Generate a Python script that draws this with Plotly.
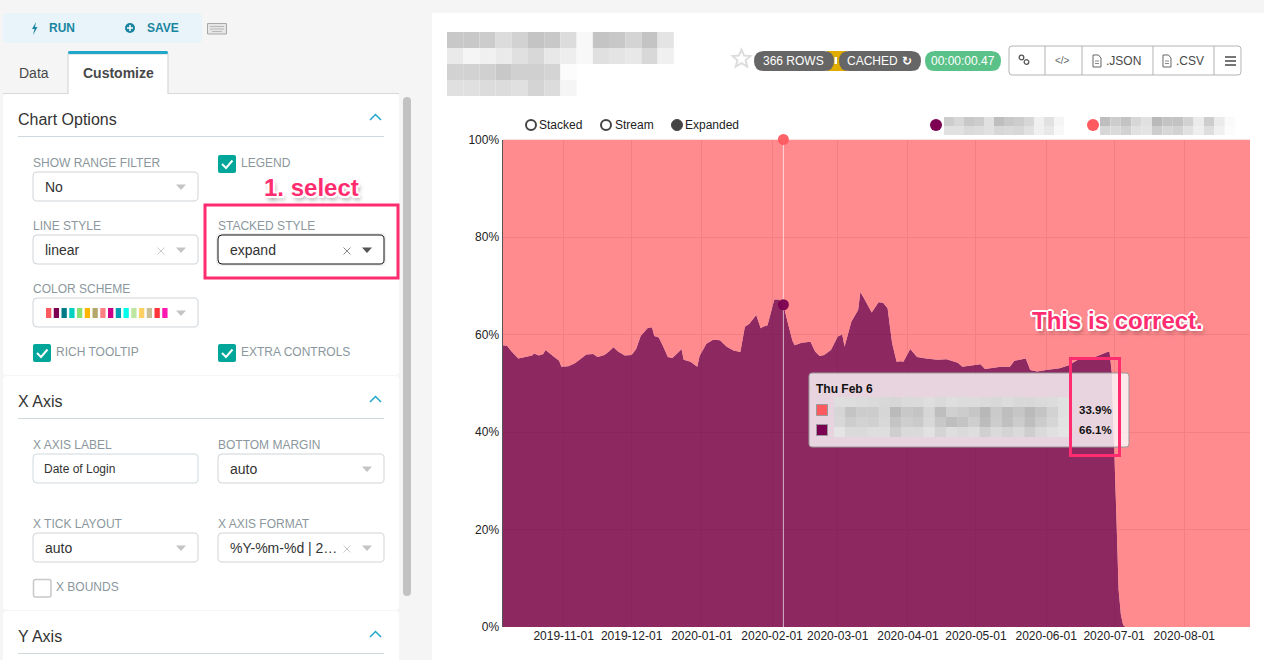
import plotly.graph_objects as go

W = 1264
H = 660

# values (expanded stack, percent)
dates = [
    "2019-10-05", "2019-10-07", "2019-10-09", "2019-10-12", "2019-10-14", "2019-10-18", "2019-10-19",
    "2019-10-21", "2019-10-23", "2019-10-24", "2019-10-27", "2019-10-30", "2019-10-31", "2019-11-03",
    "2019-11-06", "2019-11-08", "2019-11-11", "2019-11-14", "2019-11-16", "2019-11-19", "2019-11-21",
    "2019-11-23", "2019-11-25", "2019-11-28", "2019-12-01", "2019-12-03", "2019-12-05", "2019-12-08",
    "2019-12-10", "2019-12-11", "2019-12-13", "2019-12-15", "2019-12-17", "2019-12-19", "2019-12-22",
    "2019-12-23", "2019-12-24", "2019-12-27", "2019-12-30", "2019-12-31", "2020-01-03", "2020-01-06",
    "2020-01-09", "2020-01-12", "2020-01-15", "2020-01-18", "2020-01-20", "2020-01-22", "2020-01-25",
    "2020-01-27", "2020-01-28", "2020-01-30", "2020-02-02", "2020-02-04", "2020-02-06", "2020-02-08",
    "2020-02-10", "2020-02-11", "2020-02-14", "2020-02-18", "2020-02-20", "2020-02-22", "2020-02-24",
    "2020-02-27", "2020-03-01", "2020-03-03", "2020-03-04", "2020-03-07", "2020-03-10", "2020-03-11",
    "2020-03-13", "2020-03-16", "2020-03-19", "2020-03-21", "2020-03-23", "2020-03-25", "2020-03-27",
    "2020-03-29", "2020-03-30", "2020-04-02", "2020-04-05", "2020-04-09", "2020-04-14", "2020-04-18",
    "2020-04-23", "2020-04-25", "2020-05-03", "2020-05-05", "2020-05-12", "2020-05-16", "2020-05-18",
    "2020-05-23", "2020-05-25", "2020-05-28", "2020-06-01", "2020-06-07", "2020-06-11", "2020-06-15",
    "2020-06-22", "2020-06-28", "2020-06-29", "2020-06-30", "2020-07-01", "2020-07-02", "2020-07-03",
    "2020-07-04", "2020-07-05", "2020-07-06", "2020-08-30",
]
purple_pct = [
    57.8, 57.7, 56.5, 55.1, 55.3, 55.7, 56.1,
    55.7, 56.0, 56.8, 55.7, 54.6, 53.4, 53.5,
    54.1, 54.8, 55.9, 56.0, 55.4, 55.8, 56.5,
    57.4, 56.5, 55.7, 55.8, 57.0, 59.7, 61.3,
    61.5, 59.7, 59.4, 57.5, 55.4, 55.2, 56.5,
    57.0, 54.8, 54.4, 53.4, 55.6, 58.1, 58.9,
    58.8, 57.5, 56.7, 56.4, 61.6, 62.2, 64.0,
    61.3, 61.6, 61.9, 67.2, 67.2, 66.1, 62.3,
    58.7, 57.8, 58.3, 58.5, 56.5, 55.6, 55.8,
    56.8, 59.6, 60.0, 57.5, 62.6, 65.0, 68.7,
    67.1, 64.5, 66.6, 66.5, 65.4, 58.2, 54.4,
    54.5, 54.4, 57.0, 55.4, 55.1, 54.8, 54.9,
    54.2, 53.4, 53.9, 52.9, 53.4, 53.4, 54.6,
    55.1, 52.7, 52.4, 52.7, 53.1, 53.7, 54.8,
    55.3, 56.4, 56.4, 52.1, 36.9, 23.0, 7.6,
    2.5, 0.4, 0.0, 0.0,
]
coral_pct = [
    42.2, 42.3, 43.5, 44.9, 44.7, 44.3, 43.9,
    44.3, 44.0, 43.2, 44.3, 45.4, 46.6, 46.5,
    45.9, 45.2, 44.1, 44.0, 44.6, 44.2, 43.5,
    42.6, 43.5, 44.3, 44.2, 43.0, 40.3, 38.7,
    38.5, 40.3, 40.6, 42.5, 44.6, 44.8, 43.5,
    43.0, 45.2, 45.6, 46.6, 44.4, 41.9, 41.1,
    41.2, 42.5, 43.3, 43.6, 38.4, 37.8, 36.0,
    38.7, 38.4, 38.1, 32.8, 32.8, 33.9, 37.7,
    41.3, 42.2, 41.7, 41.5, 43.5, 44.4, 44.2,
    43.2, 40.4, 40.0, 42.5, 37.4, 35.0, 31.3,
    32.9, 35.5, 33.4, 33.5, 34.6, 41.8, 45.6,
    45.5, 45.6, 43.0, 44.6, 44.9, 45.2, 45.1,
    45.8, 46.6, 46.1, 47.1, 46.6, 46.6, 45.4,
    44.9, 47.3, 47.6, 47.3, 46.9, 46.3, 45.2,
    44.7, 43.6, 43.6, 47.9, 63.1, 77.0, 92.4,
    97.5, 99.6, 100.0, 100.0,
]
tick_dates = [
    "2019-11-01", "2019-12-01", "2020-01-01", "2020-02-01", "2020-03-01",
    "2020-04-01", "2020-05-01", "2020-06-01", "2020-07-01", "2020-08-01",
]
y_ticks = [0, 20, 40, 60, 80, 100]
y_labels = ["0%", "20%", "40%", "60%", "80%", "100%"]
hover_date = "2020-02-06"
hover_values = [66.1, 100]

scheme_colors = [
    "#ff5a5f", "#7b0051", "#007a87", "#00d1c1", "#8ce071", "#ffb400", "#b4a76c", "#ff8083",
    "#cc0086", "#00a1b3", "#00ffeb", "#bde7a0", "#ffd162", "#c9bf97", "#ff3339", "#ff1ab1",
]

# pixelated (redacted) blocks, grey levels per row
title_blur = [
    [200, 200, 204, 220, 210, 196, 200, 220, 248, 196, 200, 212, 196, 228],
    [234, 245, 240, 234, 224, 216, 232, 238, 248, 224, 228, 232, 216, 240],
    [210, 210, 208, 200, 208, 208, 212, 252],
    [224, 224, 220, 220, 224, 212, 220, 245],
]
legend_blur_a = [
    [205, 215, 200, 205, 225, 190, 200, 205, 215, 240, 225, 245],
    [225, 225, 218, 220, 225, 215, 218, 215, 225, 240, 232, 248],
]
legend_blur_b = [
    [190, 205, 195, 215, 225, 185, 195, 195, 210, 235, 205, 235, 250],
    [215, 218, 210, 225, 228, 205, 215, 210, 225, 238, 222, 240, 252],
]
tooltip_blur = [
    [222, 222, 220, 218, 216, 214, 218, 218, 222, 218, 222, 220, 220, 218, 216, 220, 216, 216, 218, 220, 224],
    [214, 196, 204, 204, 214, 186, 200, 196, 214, 190, 208, 204, 198, 184, 202, 190, 198, 186, 196, 210, 224],
    [216, 205, 210, 208, 216, 196, 206, 202, 216, 200, 190, 196, 206, 188, 204, 192, 204, 190, 204, 214, 226],
    [228, 218, 218, 222, 222, 206, 218, 218, 226, 212, 222, 218, 222, 208, 218, 212, 218, 206, 218, 224, 228],
]


def px(x):
    return x / W


def py(y):
    return 1 - y / H


shapes = []
notes = []


def rect(x0, y0, x1, y1, fill="rgba(0,0,0,0)", line=None, width=1):
    shapes.append(dict(
        type="rect", xref="paper", yref="paper",
        x0=px(x0), x1=px(x1), y0=py(y0), y1=py(y1),
        fillcolor=fill, line=dict(color=line or "rgba(0,0,0,0)", width=width if line else 0),
    ))


def path(points, fill="rgba(0,0,0,0)", line=None, width=1, close=False):
    d = "M" + " L".join(f"{px(x):.5f},{py(y):.5f}" for x, y in points)
    if close:
        d += " Z"
    shapes.append(dict(
        type="path", xref="paper", yref="paper", path=d,
        fillcolor=fill, line=dict(color=line or "rgba(0,0,0,0)", width=width if line else 0),
    ))


def rrect(x0, y0, x1, y1, r=4, fill="#ffffff", line=None, width=1):
    d = (
        f"M{px(x0 + r):.5f},{py(y0):.5f} L{px(x1 - r):.5f},{py(y0):.5f} "
        f"Q{px(x1):.5f},{py(y0):.5f} {px(x1):.5f},{py(y0 + r):.5f} "
        f"L{px(x1):.5f},{py(y1 - r):.5f} Q{px(x1):.5f},{py(y1):.5f} {px(x1 - r):.5f},{py(y1):.5f} "
        f"L{px(x0 + r):.5f},{py(y1):.5f} Q{px(x0):.5f},{py(y1):.5f} {px(x0):.5f},{py(y1 - r):.5f} "
        f"L{px(x0):.5f},{py(y0 + r):.5f} Q{px(x0):.5f},{py(y0):.5f} {px(x0 + r):.5f},{py(y0):.5f} Z"
    )
    shapes.append(dict(
        type="path", xref="paper", yref="paper", path=d,
        fillcolor=fill, line=dict(color=line or "rgba(0,0,0,0)", width=width if line else 0),
    ))


def circle(cx, cy, r, fill="rgba(0,0,0,0)", line=None, width=1):
    shapes.append(dict(
        type="circle", xref="paper", yref="paper",
        x0=px(cx - r), x1=px(cx + r), y0=py(cy - r), y1=py(cy + r),
        fillcolor=fill, line=dict(color=line or "rgba(0,0,0,0)", width=width if line else 0),
    ))


def text(x, y, s, size=12, color="#333333", anchor="left", family="Liberation Sans", weight=None, shadow=None):
    font = dict(size=size, color=color, family=family)
    if weight:
        font["weight"] = weight
    if shadow:
        font["shadow"] = shadow
    notes.append(dict(
        xref="paper", yref="paper", x=px(x), y=py(y), text=s, showarrow=False,
        xanchor=anchor, yanchor="middle", borderpad=0, borderwidth=0, font=font,
    ))


def blur(x0, y0, cell_w, cell_h, rows):
    for r, row in enumerate(rows):
        for c, g in enumerate(row):
            rect(x0 + c * cell_w, y0 + r * cell_h, x0 + (c + 1) * cell_w, y0 + (r + 1) * cell_h,
                 fill=f"rgb({g},{g},{g})")


def caret(x, y, color="#c4c4c4"):
    path([(x - 5, y - 2.5), (x + 5, y - 2.5), (x, y + 3)], fill=color, close=True)


def cross(x, y, color="#cccccc"):
    path([(x - 3.5, y - 3.5), (x + 3.5, y + 3.5)], line=color, width=1)
    path([(x - 3.5, y + 3.5), (x + 3.5, y - 3.5)], line=color, width=1)


def select(x0, y0, x1, label, clear=False):
    rrect(x0, y0, x1, y0 + 29, r=4, fill="#ffffff", line="#cfd4d8")
    if label:
        text(x0 + 12, y0 + 15, label, size=14, color="#333333")
    if clear:
        cross(x1 - 37, y0 + 16)
    caret(x1 - 17, y0 + 15)


def checkbox(x, y, checked=True):
    if checked:
        rrect(x, y, x + 18, y + 18, r=2, fill="#00a699")
        path([(x + 4, y + 9), (x + 8, y + 13), (x + 14.5, y + 5.5)], line="#ffffff", width=2)
    else:
        rrect(x + 0.5, y + 0.5, x + 18, y + 18, r=2, fill="#ffffff", line="#c8c8c8", width=1.5)


def section(title, y):
    text(18, y, title, size=16, color="#333333")
    path([(370, y + 1), (375.5, y - 4.5), (381, y + 1)], line="#20a7c9", width=1.5)
    path([(18, y + 17.5), (384, y + 17.5)], line="#cfd8dc", width=1)


def doc_icon(x0, y0):
    path([(x0, y0), (x0 + 5.5, y0), (x0 + 8, y0 + 3), (x0 + 8, y0 + 12), (x0, y0 + 12)],
         line="#666666", width=1, close=True)
    path([(x0 + 2, y0 + 6), (x0 + 6, y0 + 6)], line="#888888", width=1)
    path([(x0 + 2, y0 + 8.5), (x0 + 6, y0 + 8.5)], line="#888888", width=1)


LABEL = "#8b979d"

# ---- left panel
rrect(3, 13, 202, 43, r=4, fill="#e8f4f9")
path([(36, 22), (32, 29), (34.5, 29), (33, 35), (37.5, 27), (35, 27)], fill="#1a85a0", close=True)
text(49, 28, "RUN", size=12, color="#1a85a0", weight=700)
circle(130, 28, 5, fill="#1a85a0")
path([(127, 28), (133, 28)], line="#ffffff", width=1.5)
path([(130, 25), (130, 31)], line="#ffffff", width=1.5)
text(147, 28, "SAVE", size=12, color="#1a85a0", weight=700)
rect(207.5, 23.5, 226.5, 34, fill="#e6e6e6", line="#a8a8a8")
path([(210, 26.5), (224, 26.5)], line="#b8b8b8", width=1)
path([(210, 29), (224, 29)], line="#b8b8b8", width=1)
path([(212, 31.5), (222, 31.5)], line="#b8b8b8", width=1)

text(19, 73, "Data", size=14, color="#484848")
path([(3, 93.5), (399, 93.5)], line="#d9d9d9", width=1)
rrect(3, 94, 399, 375, r=4, fill="#ffffff")
rrect(3, 376, 399, 610, r=4, fill="#ffffff")
rrect(3, 611, 399, 670, r=4, fill="#ffffff")
rect(68, 54, 168, 94.5, fill="#ffffff")
path([(68, 94), (68, 54), (168, 54), (168, 94)], line="#d0d0d0", width=1)
rrect(68, 51, 168, 54, r=1.5, fill="#20a7c9")
text(118, 73, "Customize", size=14, color="#484848", anchor="center", weight=700)
rrect(403, 97, 411, 596, r=4, fill="#c2c2c2")

section("Chart Options", 119)
text(33, 162.5, "SHOW RANGE FILTER", size=12, color=LABEL)
select(33, 172, 198, "No")
checkbox(218, 155)
text(241, 162.5, "LEGEND", size=12, color=LABEL)
text(33, 225.5, "LINE STYLE", size=12, color=LABEL)
select(33, 235, 198, "linear", clear=True)
text(218, 225.5, "STACKED STYLE", size=12, color=LABEL)
rrect(216, 233, 386, 266, r=5, fill="#eeeeee")
rrect(218, 235, 384, 264, r=4, fill="#ffffff", line="#111111", width=1)
text(230, 250, "expand", size=14, color="#333333")
cross(347, 251, color="#888888")
caret(367, 250, color="#555555")
text(33, 288.5, "COLOR SCHEME", size=12, color=LABEL)
select(33, 298, 198, None)
for i, c in enumerate(scheme_colors):
    rect(46 + i * 7.75, 308, 51.3 + i * 7.75, 318, fill=c)
checkbox(33, 344)
text(56, 352, "RICH TOOLTIP", size=12, color=LABEL)
checkbox(218, 344)
text(241, 352, "EXTRA CONTROLS", size=12, color=LABEL)

section("X Axis", 401)
text(33, 444.5, "X AXIS LABEL", size=12, color=LABEL)
rrect(33, 454, 198, 483, r=4, fill="#ffffff", line="#cfd8dc")
text(44, 468.5, "Date of Login", size=12, color="#333333")
text(218, 444.5, "BOTTOM MARGIN", size=12, color=LABEL)
select(218, 454, 384, "auto")
text(33, 523.5, "X TICK LAYOUT", size=12, color=LABEL)
select(33, 533, 198, "auto")
text(218, 523.5, "X AXIS FORMAT", size=12, color=LABEL)
select(218, 533, 384, "%Y-%m-%d | 2…", clear=True)
checkbox(33, 579, checked=False)
text(56, 587, "X BOUNDS", size=12, color=LABEL)

section("Y Axis", 636)

# ---- right panel header
blur(447, 32, 16.2, 16, title_blur)
star = [(741.5, 49.5), (744, 55.5), (750.5, 56), (745.6, 60.3), (747.2, 66.6), (741.5, 63.2),
        (735.8, 66.6), (737.4, 60.3), (732.5, 56), (739, 55.5)]
path(star, fill="#ffffff", line="#dddddd", width=2, close=True)

rect(827, 51, 847, 71, fill="#e0ac00")
rect(834.5, 57, 837, 64, fill="#ffffff")
rrect(754, 51, 834, 71, r=10, fill="#666666")
rrect(839, 51, 921, 71, r=10, fill="#666666")
text(763, 61, "366 ROWS", size=12, color="#ffffff")
text(847, 61, "CACHED", size=12, color="#ffffff")
text(907, 60.5, "↻", size=12, color="#ffffff", family="DejaVu Sans", anchor="center", weight=700)
rrect(925, 51, 1001, 71, r=10, fill="#5ac189")
text(963, 61, "00:00:00.47", size=12, color="#ffffff", anchor="center")

rrect(1009, 46, 1241, 75, r=3, fill="#ffffff", line="#b4b4b4")
for xd in [1045, 1082, 1153, 1214]:
    path([(xd, 46), (xd, 75)], line="#b4b4b4", width=1)
circle(1021.5, 57.5, 2.3, line="#555555", width=1.3)
circle(1026.5, 62, 2.3, line="#555555", width=1.3)
text(1062, 60.5, "&lt;/&gt;", size=10, color="#666666", anchor="center")
doc_icon(1093, 55)
text(1106, 61, ".JSON", size=12, color="#484848")
doc_icon(1163, 55)
text(1176, 61, ".CSV", size=12, color="#484848")
path([(1225, 57), (1236, 57)], line="#484848", width=1.5)
path([(1225, 61), (1236, 61)], line="#484848", width=1.5)
path([(1225, 65), (1236, 65)], line="#484848", width=1.5)

# stacked / stream / expanded control and legend
circle(531, 125, 5, fill="#ffffff", line="#444444", width=2)
text(539, 125, "Stacked", size=12, color="#222222")
circle(606, 125, 5, fill="#ffffff", line="#444444", width=2)
text(615, 125, "Stream", size=12, color="#222222")
circle(677, 125, 5.5, fill="#444444", line="#444444", width=1)
text(685, 125, "Expanded", size=12, color="#222222")
circle(936, 125, 6, fill="#7b0051")
blur(944, 117, 10, 9, legend_blur_a)
circle(1093, 125, 6, fill="#ff5a5f")
blur(1100, 117, 10.4, 9, legend_blur_b)

# ---- tooltip
rrect(809, 373, 1129, 447, r=3, fill="rgba(255,255,255,0.8)", line="#999999")
text(816, 389, "Thu Feb 6", size=12, color="#111111", weight=700)
rect(816.5, 404.5, 827.5, 415.5, fill="#ff5a5f", line="#999999")
rect(816.5, 424.5, 827.5, 435.5, fill="#7b0051", line="#999999")
blur(834, 397, 11.2, 10, tooltip_blur)
text(1112, 410, "33.9%", size=11.5, color="#111111", anchor="right", weight=700)
text(1112, 429.5, "66.1%", size=11.5, color="#111111", anchor="right", weight=700)

# ---- pink call-outs
PINK = "#ff2d6f"
OUTLINE = ("1.5px 1.5px 0 #fff, -1.5px -1.5px 0 #fff, 1.5px -1.5px 0 #fff, -1.5px 1.5px 0 #fff, "
           "0 2px 0 #fff, 2px 0 0 #fff, -2px 0 0 #fff, 0 -2px 0 #fff, "
           "2px 4px 4px rgba(0,0,0,0.4)")
rect(205, 205, 398, 278, line=PINK, width=3)
rect(1070.5, 358.5, 1119.5, 455.5, line=PINK, width=3)
text(311, 187, "1. select", size=24, color=PINK, anchor="center", weight=700, shadow=OUTLINE)
text(1117.5, 320.5, "This is correct.", size=24, color=PINK, anchor="center", weight=700, shadow=OUTLINE)

# ---- chart
fig = go.Figure()
fig.add_trace(go.Scatter(
    x=dates, y=purple_pct, mode="none", stackgroup="one",
    fillcolor="rgba(125,10,75,0.88)", hoverinfo="skip",
))
fig.add_trace(go.Scatter(
    x=dates, y=coral_pct, mode="none", stackgroup="one",
    fillcolor="rgba(255,90,95,0.7)", hoverinfo="skip",
))
# hover guide and its two dots
fig.add_trace(go.Scatter(
    x=[hover_date, hover_date], y=[0, 100], mode="lines",
    line=dict(color="rgba(255,255,255,0.65)", width=1), hoverinfo="skip",
))
fig.add_trace(go.Scatter(
    x=[hover_date, hover_date], y=hover_values, mode="markers", cliponaxis=False,
    marker=dict(color=["#7b0051", "#ff5a5f"], size=11, opacity=0.95), hoverinfo="skip",
))

fig.update_layout(
    width=W, height=H, autosize=False,
    margin=dict(l=0, r=0, t=0, b=0),
    paper_bgcolor="#f5f5f5", plot_bgcolor="#ffffff",
    showlegend=False, hovermode=False,
    font=dict(family="Liberation Sans", size=12, color="#222222"),
    annotations=notes,
)
fig.update_xaxes(
    domain=[px(502.5), px(1250)], range=["2019-10-05", "2020-08-30"],
    type="date", tickmode="array", tickvals=tick_dates, ticktext=tick_dates,
    showgrid=True, gridcolor="#d8d8d8", gridwidth=1, zeroline=False,
    showline=False, ticks="", tickfont=dict(size=12, color="#222222"), automargin=False,
)
fig.update_yaxes(
    domain=[py(627), py(139.5)], range=[0, 100],
    tickmode="array", tickvals=y_ticks, ticktext=y_labels,
    showgrid=True, gridcolor="#d8d8d8", gridwidth=1, zeroline=False,
    showline=True, linecolor="#555555", linewidth=1, ticks="",
    tickfont=dict(size=12, color="#222222"), automargin=False,
)

# white chart panel sits under everything else
panel = dict(type="rect", xref="paper", yref="paper", layer="below",
             x0=px(432), x1=1, y0=0, y1=py(13), fillcolor="#ffffff", line=dict(width=0))
fig.update_layout(shapes=[panel] + shapes)

fig.write_html(
    "out.html",
    config={"displayModeBar": False},
    post_script="document.body.style.margin='0';document.body.style.overflow='hidden';",
)
